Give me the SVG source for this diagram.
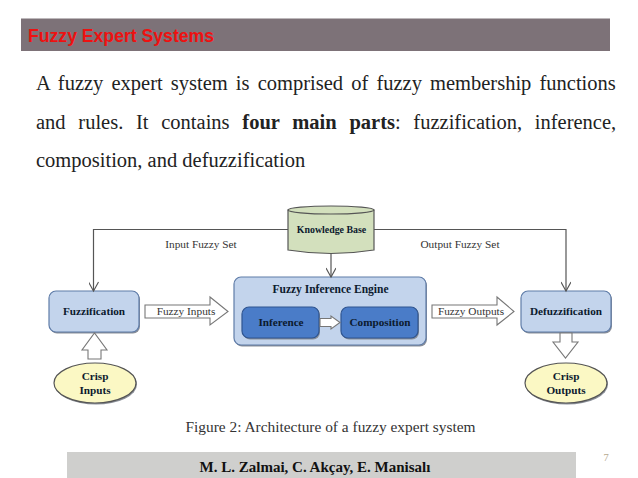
<svg xmlns="http://www.w3.org/2000/svg" width="638" height="478" viewBox="0 0 638 478">
<style>
text{font-family:"Liberation Serif",serif;fill:#111}
.body{font-size:20.5px;fill:#222}
.b{font-weight:bold}
.lab{font-size:11.3px;fill:#333;text-anchor:middle}
.nl{font-size:11.2px;font-weight:bold;text-anchor:middle;fill:#0c1a2e}
.shadow{fill:#8a8f98}
.box{fill:#c3d4ec;stroke:#5f7ca8;stroke-width:1.2}
.dark{fill:#4a7cc8;stroke:#2f5590;stroke-width:1.2}
.oval{fill:#fbf8c4;stroke:#555;stroke-width:1.2}
.line{fill:none;stroke:#555;stroke-width:1.2}
.block{fill:#fff;stroke:#777;stroke-width:1.1}
</style>
<defs>
<marker id="open" markerWidth="12" markerHeight="10" refX="10" refY="5" orient="auto" markerUnits="userSpaceOnUse"><path d="M1 0L10 5L1 10" fill="none" stroke="#555" stroke-width="1.1"/></marker>
</defs>
<rect width="638" height="478" fill="#fff"/>
<rect x="21" y="18.500" width="589" height="32.500" fill="#7d7278"/>
<text x="28" y="41.500" textLength="186" lengthAdjust="spacingAndGlyphs" style="font-family:'Liberation Sans',sans-serif;font-size:18px;font-weight:bold;fill:#ee1111">Fuzzy Expert Systems</text>
<text class="body" x="36" y="90" style="word-spacing:3px">A fuzzy expert system is comprised of fuzzy membership functions</text>
<text class="body" x="36" y="128.500" style="word-spacing:7.600px">and rules. It contains <tspan class="b">four main parts</tspan>: fuzzification, inference,</text>
<text class="body" x="36" y="167">composition, and defuzzification</text>

<g id="knowledge-base">
<path d="M288 210V250Q331 257 374 250V210Z" fill="#d3e0bd" stroke="#555" stroke-width="1.200"/>
<ellipse cx="331" cy="210" rx="43" ry="4" fill="#d3e0bd" stroke="#555" stroke-width="1.200"/>
<text class="nl" x="331.500" y="233" style="font-size:9.900px">Knowledge Base</text>
</g>
<g id="fuzzification">
<rect class="shadow" x="50" y="292.500" width="90" height="41" rx="7"/>
<rect class="box" x="49" y="291" width="90" height="41" rx="7"/>
<text class="nl" x="94" y="315">Fuzzification</text>
</g>
<g id="engine">
<rect class="shadow" x="235" y="278.500" width="192" height="68" rx="7"/>
<rect class="box" x="234" y="277" width="192" height="68" rx="7"/>
<text class="nl" x="330.500" y="293" style="font-size:11.500px">Fuzzy Inference Engine</text>
</g>
<g id="inference">
<rect class="shadow" x="243" y="308" width="77" height="31.500" rx="7"/>
<rect class="dark" x="242" y="307" width="77" height="31" rx="7"/>
<text class="nl" x="281" y="326">Inference</text>
</g>
<g id="composition">
<rect class="shadow" x="342" y="308" width="77" height="31.500" rx="7"/>
<rect class="dark" x="341" y="307" width="77" height="31" rx="7"/>
<text class="nl" x="380" y="326">Composition</text>
</g>
<g id="defuzzification">
<rect class="shadow" x="522" y="292.500" width="90" height="41" rx="7"/>
<rect class="box" x="521" y="291" width="90" height="41" rx="7"/>
<text class="nl" x="566" y="315">Defuzzification</text>
</g>
<g id="crisp-inputs">
<ellipse class="shadow" cx="96" cy="384.500" rx="41" ry="20"/>
<ellipse class="oval" cx="95" cy="383" rx="41" ry="20"/>
<text class="nl" x="95" y="380">Crisp</text>
<text class="nl" x="95" y="394">Inputs</text>
</g>
<g id="crisp-outputs">
<ellipse class="shadow" cx="567" cy="384.500" rx="41" ry="20"/>
<ellipse class="oval" cx="566" cy="383" rx="41" ry="20"/>
<text class="nl" x="566" y="380">Crisp</text>
<text class="nl" x="566" y="394">Outputs</text>
</g>

<g id="connectors">
<path class="line" d="M288 229.500H93.500V291" marker-end="url(#open)"/>
<path class="line" d="M374 229.500H566V291" marker-end="url(#open)"/>
<path class="line" d="M331 253V277" marker-end="url(#open)"/>
<path class="block" d="M145 305H210V297L228 311.500L210 325V318H145Z"/>
<path class="block" d="M432 305H497V297L514 311.500L497 325V318H432Z"/>
<path class="block" d="M88 359V350H82L94.500 333L107 350H101V359Z"/>
<path class="block" d="M560 333V342H553L565.500 358L578 342H572V333Z"/>
<path class="block" d="M320 318.500H331V316L340 322.500L331 329V326.500H320Z"/>
<text class="lab" x="201" y="248">Input Fuzzy Set</text>
<text class="lab" x="460" y="248">Output Fuzzy Set</text>
<text class="lab" x="186" y="315">Fuzzy Inputs</text>
<text class="lab" x="471" y="315">Fuzzy Outputs</text>
</g>

<text x="330.500" y="432" text-anchor="middle" style="font-size:15.400px;fill:#333">Figure 2: Architecture of a fuzzy expert system</text>
<rect x="67" y="452" width="509" height="26" fill="#cfcfcd"/>
<text x="315" y="472" text-anchor="middle" style="font-size:15px;font-weight:bold">M. L. Zalmai, C. Akçay, E. Manisalı</text>
<text x="606" y="461" text-anchor="middle" style="font-size:10.500px;fill:#b5a98f">7</text>
</svg>
